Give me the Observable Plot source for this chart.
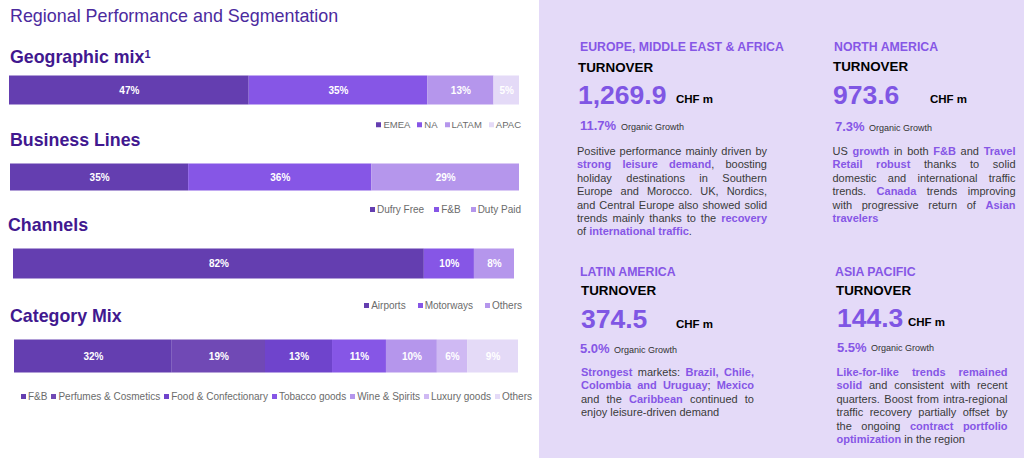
<!DOCTYPE html>
<html><head><meta charset="utf-8">
<script src="https://cdn.jsdelivr.net/npm/d3@7"></script>
<script src="https://cdn.jsdelivr.net/npm/@observablehq/plot@0.6"></script>
<style>
html,body{margin:0;padding:0;background:#fff;font-family:"Liberation Sans",Arial,sans-serif;overflow:hidden}
#page{position:relative;width:1024px;height:458px;overflow:hidden}
#panel{position:absolute;left:539px;top:0;width:485px;height:458px;background:#E4DAF8}
.t{position:absolute;white-space:nowrap;transform:translateY(-50%);line-height:1}
.h{color:#41188F;font-weight:700;font-size:17.8px}
.line{position:absolute;transform:translateY(-50%);line-height:1;font-size:11px;color:#3a3a3a;white-space:normal;text-align:justify;text-align-last:justify}
.line.last{text-align-last:left;white-space:nowrap}
.line b{color:#8656E6}
.leg{position:absolute;display:flex;transform:translateY(-50%);font-size:10px;line-height:1;color:#6b6b6b;white-space:nowrap}
.leg i{display:inline-block;width:5px;height:5px;margin-right:2px;vertical-align:1px}
.plot{position:absolute}
.plot svg{display:block}
</style></head>
<body><div id="page"><div id="panel"></div></div>
<script>
// ---- chart data ----
const geoNames = ["EMEA","NA","LATAM","APAC"];
const geoShares = [47,35,13,5];
const geoLabels = ["47%","35%","13%","5%"];

const lineNames = ["Dufry Free","F&B","Duty Paid"];
const lineShares = [35,36,29];
const lineLabels = ["35%","36%","29%"];

const channelNames = ["Airports","Motorways","Others"];
const channelShares = [82,10,8];
const channelLabels = ["82%","10%","8%"];

const categoryNames = ["F&B","Perfumes & Cosmetics","Food & Confectionary","Tobacco goods","Wine & Spirits","Luxury goods","Others"];
const categoryShares = [31.3,18.5,13.3,10.7,10.1,6.0,10.1]; // widths
const categoryLabels = ["32%","19%","13%","11%","10%","6%","9%"];

// ---- palettes ----
const geoColors = ["#643EB0","#8656E6","#B596EC","#E4DAF7"];
const threeColors = ["#643EB0","#8656E6","#B596EC"];
const categoryColors = ["#643EB0","#7049B5","#6F44CC","#8656E6","#B596EC","#CFB9F3","#E4DAF7"];

// ---- regional text ----
const regionNames = ["EUROPE, MIDDLE EAST & AFRICA","NORTH AMERICA","LATIN AMERICA","ASIA PACIFIC"];
const regionTurnover = ["1,269.9","973.6","374.5","144.3"];
const regionGrowth = ["11.7%","7.3%","5.0%","5.5%"];
const regionText = [
 ["Positive performance mainly driven by","<b>strong leisure demand</b>, boosting","holiday destinations in Southern","Europe and Morocco. UK, Nordics,","and Central Europe also showed solid","trends mainly thanks to the <b>recovery</b>","of <b>international traffic</b>."],
 ["US <b>growth</b> in both <b>F&amp;B</b> and <b>Travel</b>","<b>Retail robust</b> thanks to solid","domestic and international traffic","trends. <b>Canada</b> trends improving","with progressive return of <b>Asian</b>","<b>travelers</b>"],
 ["<b>Strongest</b> markets: <b>Brazil, Chile,</b>","<b>Colombia and Uruguay</b>; <b>Mexico</b>","and the <b>Caribbean</b> continued to","enjoy leisure-driven demand"],
 ["<b>Like-for-like trends remained</b>","<b>solid</b> and consistent with recent","quarters. Boost from intra-regional","traffic recovery partially offset by","the ongoing <b>contract portfolio</b>","<b>optimization</b> in the region"]
];

// ---- layout ----
const page = document.getElementById("page");
function put(html, x, y, css, cls="t"){
  const d = document.createElement("div");
  d.className = cls; d.innerHTML = html;
  d.style.left = x+"px"; d.style.top = y+"px";
  if (css) d.style.cssText += ";"+css;
  page.appendChild(d); return d;
}
function stackedBar(names, shares, labels, colors, box){
  const rows = names.map((name,i)=>({name, share:shares[i], label:labels[i]}));
  const chart = Plot.plot({
    width: box.w, height: box.h, margin:0,
    x:{domain:[0,100], axis:null},
    color:{domain:names, range:colors},
    style:{background:"transparent", fontFamily:'"Liberation Sans",Arial,sans-serif'},
    marks:[
      Plot.barX(rows, Plot.stackX({x:"share", fill:"name", insetTop:0.5, insetBottom:0.5})),
      Plot.text(rows, Plot.stackX({x:"share", text:"label", fill:"#fff", fontWeight:700, fontSize:10}))
    ]
  });
  const w = document.createElement("div");
  w.className="plot"; w.style.left=box.x+"px"; w.style.top=box.y+"px";
  w.appendChild(chart); page.appendChild(w);
}
function legend(names, colors, y, pos, gap, size){
  const l = document.createElement("div");
  l.className="leg"; l.style.top=y+"px"; l.style.gap=gap+"px";
  if (size) l.style.fontSize=size+"px";
  if (pos.right!=null) l.style.right=(1024-pos.right)+"px"; else l.style.left=pos.left+"px";
  names.forEach((n,i)=>{
    const s=document.createElement("span");
    const k=document.createElement("i"); k.style.background=colors[i];
    s.appendChild(k); s.appendChild(document.createTextNode(n)); l.appendChild(s);
  });
  page.appendChild(l);
}

put("Regional Performance and Segmentation",10,17,"color:#4B2A9E;font-size:17.9px");
put('Geographic mix<sup style="font-size:11px;vertical-align:5px;line-height:0">1</sup>',10,58,"","t h");
put("Business Lines",10,141,"","t h");
put("Channels",8,226,"","t h");
put("Category Mix",10,317,"","t h");

stackedBar(geoNames,geoShares,geoLabels,geoColors,{x:9,y:75,w:510,h:30});
stackedBar(lineNames,lineShares,lineLabels,threeColors,{x:10,y:163,w:509,h:28});
stackedBar(channelNames,channelShares,channelLabels,threeColors,{x:13,y:248,w:501,h:31});
stackedBar(categoryNames,categoryShares,categoryLabels,categoryColors,{x:14,y:339,w:504,h:34});

legend(geoNames,geoColors,124.5,{right:521},7,9.5);
legend(lineNames,threeColors,210,{right:521},10);
legend(channelNames,threeColors,306,{right:522},12);
legend(categoryNames,categoryColors,397,{left:21},4);

const spots = [
 {head:[580,46.5],turn:[578,68],num:[578,95],chf:[676,100],gr:[580,125],og:[621,126.5],para:[577,151,190]},
 {head:[834,46.5],turn:[833,66.5],num:[833,95],chf:[930,100],gr:[835,126],og:[869,127.5],para:[832.5,151,183]},
 {head:[580,271.5],turn:[581,291],num:[581,319],chf:[676,325],gr:[580,348],og:[614,349.5],para:[581,372,173]},
 {head:[835,271.5],turn:[836,291],num:[837,318],chf:[908,323],gr:[837,347],og:[871,348],para:[836.5,372,171]}
];
regionNames.forEach((name,i)=>{
  const s=spots[i];
  put(name.replace("&","&amp;"),s.head[0],s.head[1],"color:#8656E6;font-weight:700;font-size:12.3px");
  put("TURNOVER",s.turn[0],s.turn[1],"color:#000;font-weight:700;font-size:13.4px");
  put(regionTurnover[i],s.num[0],s.num[1],"color:#7F56E4;font-weight:700;font-size:26.5px");
  put("CHF m",s.chf[0],s.chf[1],"color:#000;font-weight:700;font-size:11.5px");
  put(regionGrowth[i],s.gr[0],s.gr[1],"color:#8656E6;font-weight:700;font-size:13px");
  put("Organic Growth",s.og[0],s.og[1],"color:#333;font-size:9px");
  regionText[i].forEach((ln,j,a)=>{
    put(ln,s.para[0],s.para[1]+j*13.4,"width:"+s.para[2]+"px","line"+(j===a.length-1?" last":""));
  });
});
</script></body></html>
